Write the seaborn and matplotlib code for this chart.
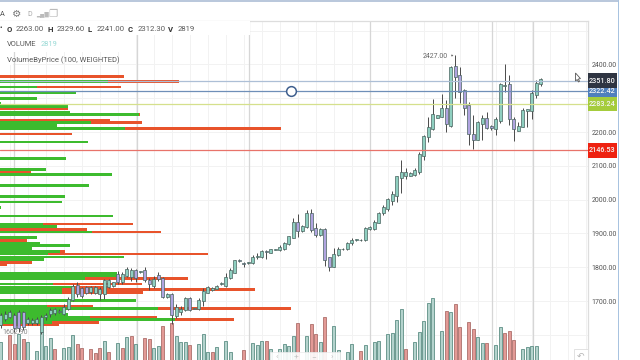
import numpy as np
import pandas as pd
import matplotlib
matplotlib.use('Agg')
import matplotlib.pyplot as plt
from matplotlib.patches import Rectangle, Polygon
import seaborn as sns

sns.set_style("white")
plt.rcParams['font.family'] = ['Roboto', 'DejaVu Sans']

# ---------- candles ----------
opens = [1630, 1648, 1654, 1658, 1668, 1668, 1634, 1634, 1634, 1609, 1654, 1663, 1666, 1668, 1663, 1678, 1703, 1749, 1738, 1742,
         1728, 1725, 1722, 1720, 1742, 1745, 1779, 1755, 1775, 1770, 1792, 1785, 1792, 1762, 1745, 1777, 1767, 1711, 1720, 1656,
         1668, 1673, 1708, 1677, 1678, 1701, 1725, 1732, 1737, 1750, 1745, 1769, 1784, 1822, 1814, 1813, 1813, 1829, 1829, 1848,
         1843, 1852, 1851, 1854, 1869, 1888, 1935, 1908, 1918, 1960, 1915, 1895, 1912, 1829, 1802, 1836, 1853, 1853, 1871, 1881,
         1880, 1881, 1912, 1912, 1932, 1960, 1971, 1996, 2011, 2065, 2070, 2071, 2073, 2083, 2129, 2186, 2209, 2243, 2246, 2272,
         2219, 2396, 2370, 2325, 2280, 2195, 2178, 2225, 2241, 2218, 2208, 2234, 2335, 2343, 2240, 2203, 2216, 2262, 2263, 2311, 2342]
closes = [1658, 1663, 1668, 1619, 1619, 1624, 1648, 1643, 1648, 1653, 1658, 1673, 1676, 1672, 1683, 1706, 1745, 1720, 1716, 1725,
          1742, 1742, 1737, 1762, 1762, 1755, 1755, 1779, 1795, 1792, 1768, 1788, 1762, 1752, 1765, 1765, 1712, 1720, 1658, 1683,
          1678, 1708, 1675, 1679, 1703, 1729, 1742, 1739, 1745, 1753, 1772, 1792, 1821, 1820, 1811, 1816, 1829, 1834, 1848, 1845,
          1853, 1854, 1859, 1871, 1892, 1935, 1908, 1922, 1960, 1910, 1895, 1912, 1821, 1802, 1838, 1853, 1855, 1873, 1881, 1883,
          1882, 1917, 1920, 1935, 1960, 1977, 2001, 2017, 2070, 2083, 2083, 2078, 2088, 2135, 2189, 2214, 2253, 2250, 2271, 2224,
          2394, 2362, 2320, 2272, 2195, 2177, 2229, 2241, 2211, 2212, 2238, 2343, 2339, 2238, 2210, 2219, 2265, 2268, 2315, 2344, 2357]
highs = [1665, 1670, 1675, 1665, 1675, 1672, 1652, 1650, 1652, 1660, 1665, 1680, 1680, 1678, 1690, 1712, 1750, 1755, 1742, 1746,
         1745, 1745, 1742, 1766, 1765, 1757, 1788, 1785, 1802, 1798, 1795, 1790, 1800, 1769, 1775, 1785, 1772, 1723, 1725, 1690,
         1685, 1711, 1712, 1680, 1708, 1738, 1745, 1741, 1748, 1755, 1782, 1797, 1823, 1824, 1816, 1817, 1835, 1843, 1850, 1851,
         1855, 1855, 1865, 1876, 1894, 1945, 1958, 1924, 1970, 1973, 1930, 1915, 1916, 1831, 1856, 1861, 1856, 1874, 1886, 1885,
         1884, 1918, 1922, 1940, 1963, 1985, 2005, 2027, 2071, 2117, 2093, 2082, 2095, 2140, 2190, 2245, 2298, 2252, 2314, 2294,
         2396, 2427, 2392, 2327, 2290, 2250, 2232, 2250, 2260, 2220, 2245, 2345, 2400, 2370, 2245, 2229, 2270, 2268, 2326, 2354, 2359]
lows = [1620, 1640, 1650, 1610, 1610, 1615, 1628, 1630, 1630, 1603, 1645, 1654, 1660, 1664, 1660, 1673, 1700, 1712, 1710, 1720,
        1722, 1720, 1703, 1705, 1740, 1743, 1750, 1750, 1770, 1760, 1755, 1783, 1755, 1733, 1740, 1760, 1708, 1708, 1632, 1650,
        1660, 1670, 1672, 1676, 1673, 1684, 1723, 1731, 1735, 1748, 1742, 1765, 1782, 1817, 1802, 1811, 1811, 1825, 1828, 1824,
        1842, 1851, 1848, 1852, 1867, 1886, 1890, 1905, 1915, 1905, 1890, 1892, 1803, 1789, 1800, 1834, 1852, 1852, 1866, 1879,
        1877, 1878, 1911, 1910, 1930, 1956, 1968, 1984, 1994, 2019, 2060, 2070, 2070, 2076, 2117, 2172, 2206, 2241, 2244, 2199,
        2216, 2300, 2285, 2250, 2162, 2150, 2176, 2178, 2208, 2205, 2190, 2228, 2320, 2221, 2173, 2202, 2214, 2216, 2240, 2302, 2336]

# ---------- volume pane (0 = below the visible part) ----------
volume = [3120, 0, 3600, 2976, 3672, 3288, 3072, 0, 2448, 3840, 2832, 3408, 2592, 0, 2688, 2760, 3600, 2928, 2640, 0,
          2568, 2280, 2688, 3168, 2400, 0, 3000, 2688, 3432, 3528, 2952, 0, 3408, 3288, 2640, 2808, 4248, 0, 4464, 3528,
          3120, 3072, 2880, 0, 2928, 3672, 2400, 2400, 2760, 0, 3168, 2400, 0, 0, 2544, 0, 3048, 2880, 3168, 3168,
          2568, 0, 2592, 2928, 2832, 3552, 4488, 0, 3552, 4368, 3672, 3120, 4920, 0, 4224, 2520, 0, 2352, 2952, 0,
          2448, 2880, 0, 3072, 3192, 0, 3672, 3768, 4656, 5448, 2616, 0, 3120, 3840, 4632, 5880, 6264, 0, 3888, 5352,
          5280, 5832, 4176, 0, 4536, 4008, 3432, 3048, 3048, 0, 2880, 4176, 3720, 3888, 3240, 0, 2568, 2712, 2832, 2832, 0]
vol_dir = ['u', 'u', 'd', 'd', 'u', 'd', 'u', 'u', 'u', 'u', 'u', 'u', 'd', 'u', 'u', 'u', 'u', 'd', 'd', 'u',
           'd', 'd', 'd', 'u', 'd', 'u', 'u', 'd', 'u', 'd', 'u', 'u', 'd', 'd', 'u', 'u', 'd', 'u', 'd', 'u',
           'u', 'u', 'd', 'u', 'u', 'u', 'u', 'd', 'u', 'u', 'u', 'u', 'u', 'u', 'd', 'u', 'u', 'u', 'u', 'd',
           'u', 'u', 'u', 'u', 'u', 'u', 'd', 'u', 'u', 'd', 'd', 'u', 'd', 'u', 'u', 'u', 'u', 'u', 'u', 'u',
           'd', 'u', 'u', 'u', 'u', 'u', 'u', 'u', 'u', 'u', 'd', 'u', 'u', 'u', 'u', 'u', 'u', 'u', 'u', 'd',
           'u', 'd', 'd', 'u', 'd', 'd', 'u', 'u', 'd', 'u', 'u', 'u', 'd', 'd', 'd', 'u', 'u', 'u', 'u', 'u', 'u']

# ---------- volume by price ----------
vbp_price = [2365, 2349, 2333, 2317, 2300, 2284, 2276, 2268, 2260, 2252, 2236, 2228, 2219, 2211, 2195, 2171, 2122, 2090, 2082, 2074,
             2042, 2009, 1993, 1977, 1952, 1928, 1920, 1912, 1904, 1888, 1880, 1872, 1864, 1855, 1847, 1839, 1831, 1823, 1815, 1807,
             1783, 1775, 1767, 1750, 1742, 1734, 1726, 1702, 1686, 1678, 1669, 1661, 1653, 1645, 1637, 1629]
vbp_green = [0, 108, 37, 76, 37, 1, 68, 0, 70, 139, 0, 91, 57, 125, 0, 88, 66, 46, 0, 112,
             89, 65, 62, 1, 113, 43, 57, 0, 92, 37, 0, 40, 70, 32, 60, 48, 124, 44, 0, 0,
             117, 117, 85, 53, 73, 62, 62, 136, 47, 158, 65, 68, 90, 175, 52, 0]
vbp_red = [124, 179, 121, 0, 0, 0, 0, 68, 0, 140, 110, 142, 0, 281, 72, 0, 0, 0, 31, 0,
           0, 0, 0, 0, 0, 133, 0, 87, 161, 0, 27, 0, 0, 0, 65, 208, 0, 0, 32, 7,
           0, 0, 188, 142, 110, 255, 143, 0, 93, 291, 0, 0, 157, 234, 99, 59]

# ---------- levels, axis ----------
level_price = [2322.42, 2351.80, 2283.24, 2146.53]
level_line = ['#6f8fb8', '#adbfd6', '#d5e08c', '#e8736a']
level_tag = ['#4f7fbd', '#2f3542', '#a5cc3c', '#ee2211']
level_text = ['2322.42', '2351.80', '2283.24', '2146.53']
price_ticks = [1600, 1700, 1800, 1900, 2000, 2100, 2200, 2300, 2400, 2500]
price_labels = ['', '1700.00', '1800.00', '1900.00', '2000.00', '2100.00', '2200.00', '', '2400.00', '']
heavy_lines = [3, 30.2, 55.2, 82.1, 109.1, 118.3]
light_lines = list(range(2, 131, 4))

idx = np.arange(len(opens))
vol_df = pd.DataFrame({'idx': idx, 'volume': volume, 'dir': vol_dir})
vbp_df = pd.DataFrame({'price': vbp_price, 'green': vbp_green, 'red': vbp_red})

fig = plt.figure(figsize=(6.4, 3.6), dpi=100)
rect = [0, 0, 588 / 640, (360 - 21) / 360]
x_range = (-0.156, 130.5)
y_range = (1525.7, 2528.7)

# grid + price axis
ax_grid = fig.add_axes(rect, zorder=0)
ax_grid.set_xlim(x_range)
ax_grid.set_ylim(y_range)
ax_grid.set_xticks(light_lines)
ax_grid.set_xticklabels([])
ax_grid.set_yticks(price_ticks)
ax_grid.set_yticklabels(price_labels, fontsize=5.0, color='#555555')
ax_grid.yaxis.tick_right()
ax_grid.tick_params(axis='both', length=0, pad=2.5)
ax_grid.grid(True, color='#f2f2f2', lw=0.7)
for s in ['left', 'bottom']:
    ax_grid.spines[s].set_visible(False)
for s in ['top', 'right']:
    ax_grid.spines[s].set_color('#dddddd')
    ax_grid.spines[s].set_linewidth(0.9)
for v in heavy_lines:
    ax_grid.axvline(v, color='#d6d6d6', lw=0.9, zorder=1)

# legend block hides the grid behind it
for (px, py, pw, ph) in [(0, 21, 250, 14), (0, 35, 135, 17), (0, 52, 13, 13)]:
    ax_grid.add_patch(Rectangle((px / 640, 1 - (py + ph) / 360), pw / 640, ph / 360, transform=fig.transFigure,
                                fc='white', ec='none', zorder=3, clip_on=False))

# volume by price
ax_vbp = fig.add_axes(rect, zorder=1)
ax_vbp.patch.set_alpha(0)
sns.barplot(data=vbp_df, x='red', y='price', orient='y', native_scale=True, color='#e8532b', saturation=1,
            width=0.95, edgecolor='none', linewidth=0, ax=ax_vbp)
sns.barplot(data=vbp_df, x='green', y='price', orient='y', native_scale=True, color='#3dbb2e', saturation=1,
            width=0.95, edgecolor='none', linewidth=0, ax=ax_vbp)
ax_vbp.set_xlim(0, 588)
ax_vbp.set_ylim(y_range)
ax_vbp.axis('off')

# volume
ax_vol = fig.add_axes(rect, zorder=2)
ax_vol.patch.set_alpha(0)
sns.barplot(data=vol_df[vol_df['dir'] == 'u'], x='idx', y='volume', native_scale=True, color='#b4d3cd', saturation=1,
            edgecolor='#5d8f85', linewidth=0.6, width=0.6, ax=ax_vol)
sns.barplot(data=vol_df[vol_df['dir'] == 'd'], x='idx', y='volume', native_scale=True, color='#e39a96', saturation=1,
            edgecolor='#ad6f6b', linewidth=0.6, width=0.6, ax=ax_vol)
ax_vol.set_xlim(x_range)
ax_vol.set_ylim(1800, 26208)
ax_vol.axis('off')

# candles, levels
ax_c = fig.add_axes(rect, zorder=3)
ax_c.patch.set_alpha(0)
ax_c.set_xlim(x_range)
ax_c.set_ylim(y_range)
ax_c.axis('off')
o = np.array(opens)
c = np.array(closes)
ax_c.vlines(idx, lows, highs, color='#4a4a4a', lw=0.7, zorder=3)
ax_c.bar(idx, np.abs(c - o), bottom=np.minimum(o, c), width=0.6,
         color=np.where(c >= o, '#8fcfc0', '#b0a4e0'), edgecolor='#4a6460', linewidth=0.5, zorder=4)

for price, col in zip(level_price, level_line):
    ax_c.axhline(price, color=col, lw=0.9, zorder=5)
ax_c.plot([64.4], [2322.42], marker='o', ms=7, mfc='white', mec='#3f5f8e', mew=1.1, zorder=6)

# price tags on the right
ytrans = ax_c.get_yaxis_transform()
for price, col, txt in zip(level_price, level_tag, level_text):
    ax_c.add_patch(Rectangle((1.0, price - 22), 29 / 588, 44, transform=ytrans, fc=col, ec='none', clip_on=False, zorder=7))
    ax_c.text(1.0245, price, txt, transform=ytrans, color='#f4f4f4', fontsize=5.2, fontweight='medium',
              ha='center', va='center', clip_on=False, zorder=8)

ax_c.annotate('2427.00', xy=(100.6, 2427), xytext=(423 / 640, 1 - 57 / 360), textcoords='figure fraction',
              fontsize=5.0, color='#666666', va='center',
              arrowprops=dict(arrowstyle='-|>,head_width=0.1,head_length=0.15', color='#777777', lw=0.5))
ax_c.annotate('1602.90', xy=(9, 1602.9), xytext=(2 / 640, 1 - 333 / 360), textcoords='figure fraction',
              fontsize=5.0, color='#8a8a8a', va='center')

# header texts
def t(x, y, s, **kw):
    kw.setdefault('fontsize', 5.4)
    kw.setdefault('color', '#5a5a5a')
    kw.setdefault('va', 'center')
    fig.text(x / 640, 1 - y / 360, s, **kw)

t(0, 14, 'A', color='#555555')
t(12, 14, '⚙', fontsize=7.5, color='#777777')
t(27, 15, 'D', color='#aaaaaa', fontsize=5)
t(36, 14, '▂▅▇', fontsize=4, color='#bbbbbb')
t(48, 14, '❐', fontsize=7.5, color='#bbbbbb')
t(0, 29, '•', color='#333333')
for x, s, bold in [(7, 'O', True), (16, '2263.00', False), (47.5, 'H', True), (57, '2329.60', False), (88, 'L', True),
                   (97, '2241.00', False), (128, 'C', True), (137.5, '2312.30', False), (168, 'V', True), (177.5, '2819', False)]:
    t(x, 29, s, fontweight='bold' if bold else 'normal', color='#333333' if bold else '#5a5a5a', fontsize=5.6)
t(7, 44.5, 'VOLUME', fontsize=5.4)
t(41, 44.5, '2819', color='#9adad6', fontsize=5.4)
t(7, 60, 'VolumeByPrice (100, WEIGHTED)', fontsize=5.5)

# window frame, nav toolbar, cursor
def frect(px, py, pw, ph, **kw):
    fig.add_artist(Rectangle((px / 640, 1 - (py + ph) / 360), pw / 640, ph / 360, transform=fig.transFigure, **kw))

frect(0, 0, 618, 2, fc='#bac8dc', ec='none', zorder=10)
frect(617.5, 0, 1, 360, fc='#a8c3e0', ec='none', zorder=10)
frect(270, 352, 70, 8, fc='white', ec='#ececec', lw=0.6, alpha=0.9, zorder=10)
frect(574, 349, 14, 11, fc='white', ec='#dddddd', lw=0.6, zorder=10)
for x, s in [(277, '‹'), (296, '+'), (314, '−'), (332, '›')]:
    t(x, 357, s, fontsize=6, color='#c4c4c4', ha='center', zorder=11)
t(581, 356, '↶', fontsize=6.5, color='#b5b5b5', ha='center', zorder=11)
cursor = [(575.5, 73), (575.5, 81), (577.2, 79.5), (578.5, 82), (579.5, 81.3), (578.4, 79), (580.5, 78.6)]
fig.add_artist(Polygon([(x / 640, 1 - y / 360) for x, y in cursor], closed=True, transform=fig.transFigure,
                       fc='white', ec='#555555', lw=0.6, zorder=11))

plt.savefig('out.png', dpi=100)
plt.close()
